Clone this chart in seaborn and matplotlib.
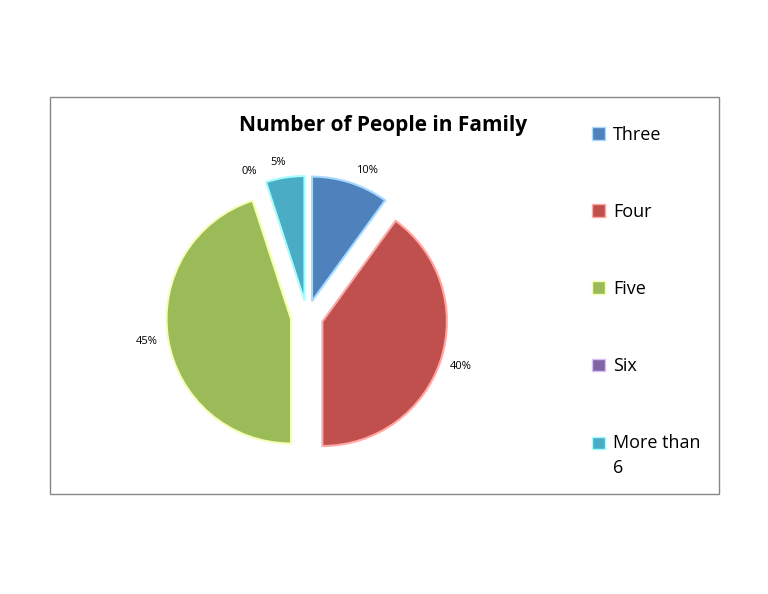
import matplotlib
matplotlib.use('Agg')
import matplotlib.pyplot as plt
from matplotlib.patches import Rectangle
import matplotlib.colors as mcolors
import seaborn as sns
import numpy as np

# data
categories = ['Three', 'Four', 'Five', 'Six', 'More than 6']
shares = [10, 40, 45, 0, 5]
colors = ['#4F81BD', '#C0504D', '#9BBB59', '#8064A2', '#4BACC6']

sns.set_theme(style='white')
plt.rcParams['font.family'] = ['Open Sans', 'DejaVu Sans']
plt.rcParams['text.color'] = 'black'

W, H = 768, 594
fig = plt.figure(figsize=(W / 100, H / 100), dpi=100)

# pie centre in px from top-left, radius in px
cx, cy, r = 307, 316.5, 124.5
ax = fig.add_axes([(cx - 1.5 * r) / W, (H - cy - 1.5 * r) / H, 3 * r / W, 3 * r / H])

edge = [mcolors.to_hex([min(1, c + 0.35) for c in mcolors.to_rgb(col)]) for col in colors]
wedges, texts, autotexts = ax.pie(
    shares, colors=colors, startangle=90, counterclock=False,
    explode=[0.13] * len(shares), autopct='%1.0f%%', pctdistance=1.17,
    wedgeprops=dict(linewidth=1.5), textprops=dict(fontsize=8, color='black'))
for w, e, s in zip(wedges, edge, shares):
    w.set_edgecolor(e)
    if s == 0:
        w.set_visible(False)

# nudge labels at the top so they don't overlap
nudges = {0: (0.08, -0.06), 3: (-0.06, -0.07), 4: (-0.03, -0.05)}
for i, (dx, dy) in nudges.items():
    x0, y0 = autotexts[i].get_position()
    autotexts[i].set_position((x0 + dx, y0 + dy))
ax.set_xlim(-1.5, 1.5)
ax.set_ylim(-1.5, 1.5)
ax.axis('off')

fig.text(383 / W, 1 - 125 / H, 'Number of People in Family', ha='center', va='center',
         fontsize=15, fontweight='bold', color='black')

handles = [Rectangle((0, 0), 1, 1, facecolor=c, edgecolor=e, linewidth=1) for c, e in zip(colors, edge)]
labels = [c.replace('More than 6', 'More than\n6') for c in categories]
leg = fig.legend(handles, labels, loc='upper left', bbox_to_anchor=(583 / W, 1 - 117 / H),
                 frameon=False, fontsize=13, handlelength=0.7, handleheight=0.7,
                 handletextpad=0.45, labelspacing=3.27, borderpad=0, labelcolor='black')
leg.get_texts()[-1].set_linespacing(1.5)
last = leg.legend_handles[-1]
last.set_y(last.get_y() + 9.5)

fig.patches.append(Rectangle((50 / W, 1 - 494 / H), 669 / W, 397 / H, transform=fig.transFigure,
                             fill=False, edgecolor='#868686', linewidth=1))

fig.savefig('out.png', dpi=100)
